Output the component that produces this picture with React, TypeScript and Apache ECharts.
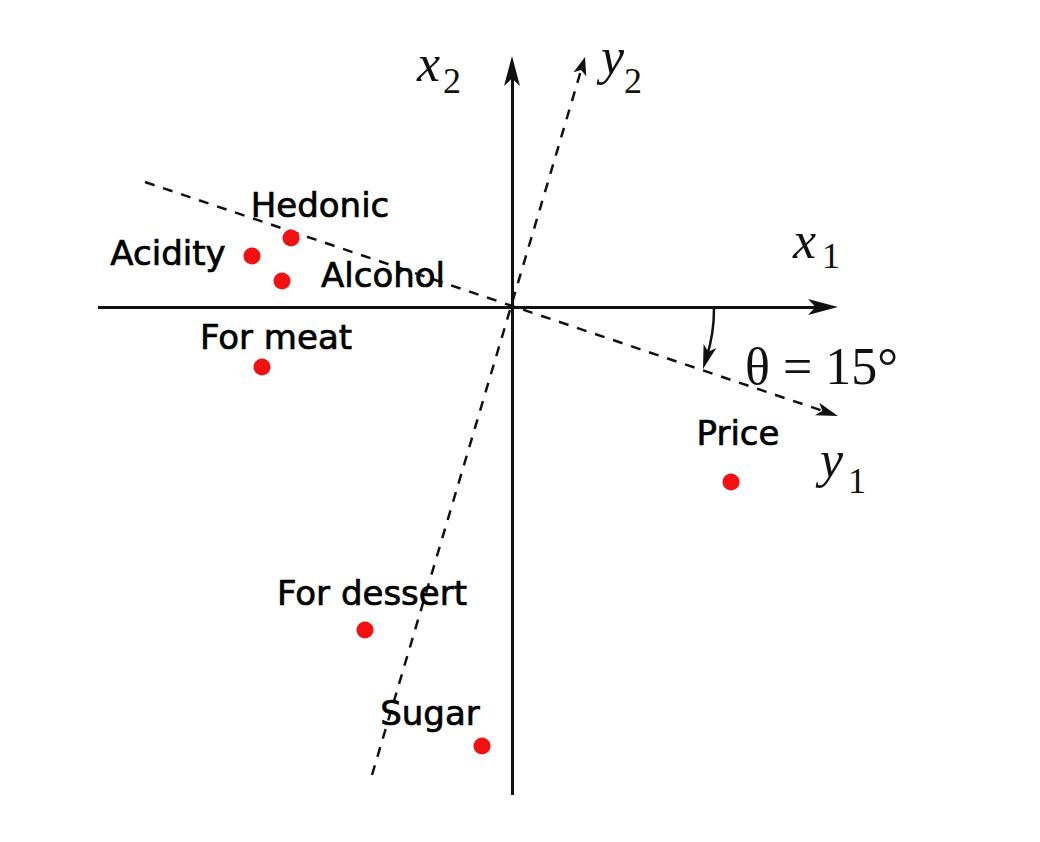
import React, { useEffect, useRef } from "react";
import * as echarts from "echarts";

// Variable names and their coordinates (units: plot units, origin at axes crossing)
const names = ["Hedonic", "Acidity", "Alcohol", "For meat", "Price", "For dessert", "Sugar"];
const xs = [-2.21, -2.6, -2.3, -2.5, 2.19, -1.47, -0.3];
const ys = [0.69, 0.51, 0.26, -0.6, -1.75, -3.23, -4.39];

// Axis segments [xStart, yStart, xTip, yTip]
const x1Axis = [-4.14, 0, 3.26, 0];
const x2Axis = [0, -4.88, 0, 2.51];
const y1Axis = [-3.67, 1.25, 3.26, -1.09];
const y2Axis = [-1.4, -4.68, 0.73, 2.5];
const thetaArc = [2.02, -0.01, 1.91, -0.62];

// label offsets (style)
const labelOffsets: number[][] = [
  [29, -33],
  [-84, -3],
  [101, -6],
  [14, -30],
  [7, -49],
  [7, -37],
  [-52, -33],
];

const serif = "'Liberation Serif', 'DejaVu Serif', serif";
const PX = 100; // pixels per plot unit

// ECharts 'arrow' symbol has its tip at the data point; the line stops inside the head
function arrowParts(s: number[], h: number, dirOverride?: number[]) {
  let dx = s[2] - s[0];
  let dy = s[3] - s[1];
  if (dirOverride) {
    dx = dirOverride[0];
    dy = dirOverride[1];
  }
  const len = Math.hypot(dx, dy);
  const ux = dx / len;
  const uy = dy / len;
  const lineEnd = [s[2] - (ux * h * 0.5) / PX, s[3] - (uy * h * 0.5) / PX];
  const rot = (Math.atan2(-ux, uy) * 180) / Math.PI;
  return { tip: [s[2], s[3]], lineEnd, rot };
}

export default function App() {
  const ref = useRef<HTMLDivElement>(null);
  useEffect(() => {
    if (!ref.current) return;
    const chart = echarts.init(ref.current, null, { renderer: "svg" });
    const mathText = (t: string, x: number, y: number, size: number, italic: boolean) => ({
      type: "text",
      x,
      y,
      z: 100,
      style: {
        text: t,
        fill: "#111",
        fontSize: size,
        fontFamily: serif,
        fontStyle: italic ? "italic" : "normal",
        textAlign: "left",
        textVerticalAlign: "middle",
      },
    });

    const arrows = [
      { seg: x1Axis, w: 12, h: 30, dir: undefined as number[] | undefined },
      { seg: x2Axis, w: 12, h: 30, dir: undefined },
      { seg: y1Axis, w: 10, h: 22, dir: undefined },
      { seg: y2Axis, w: 10, h: 18, dir: undefined },
      { seg: thetaArc, w: 10, h: 24, dir: [-0.29, -0.956] },
    ].map((a) => ({ ...a, ...arrowParts(a.seg, a.h, a.dir) }));

    const lineTo = (i: number) => ({
      coords: [[arrows[i].seg[0], arrows[i].seg[1]], arrows[i].lineEnd],
    });

    chart.setOption({
      animation: false,
      backgroundColor: "#fff",
      grid: { left: 0, right: 0, top: 0, bottom: 0 },
      xAxis: { type: "value", min: -5.12, max: 5.28, show: false },
      yAxis: { type: "value", min: -5.35, max: 3.07, show: false },
      series: [
        {
          type: "lines",
          coordinateSystem: "cartesian2d",
          symbol: ["none", "none"],
          lineStyle: { color: "#111", width: 3, opacity: 1 },
          data: [lineTo(0), lineTo(1)],
          silent: true,
        },
        {
          type: "lines",
          coordinateSystem: "cartesian2d",
          symbol: ["none", "none"],
          lineStyle: { color: "#111", width: 2.5, opacity: 1, type: [10, 9] },
          data: [lineTo(2), lineTo(3)],
          silent: true,
        },
        {
          type: "lines",
          coordinateSystem: "cartesian2d",
          symbol: ["none", "none"],
          lineStyle: { color: "#111", width: 2.5, opacity: 1, curveness: 0.08 },
          data: [lineTo(4)],
          silent: true,
        },
        {
          type: "scatter",
          silent: true,
          itemStyle: { color: "#111", opacity: 1 },
          data: arrows.map((a) => ({
            value: a.tip,
            symbol: "arrow",
            symbolSize: [a.w, a.h],
            symbolRotate: a.rot,
          })),
          z: 4,
        },
        {
          type: "scatter",
          symbolSize: 17,
          itemStyle: { color: "#f21010", opacity: 1 },
          label: {
            show: true,
            position: "inside",
            formatter: "{b}",
            fontSize: 34,
            fontFamily: "'DejaVu Sans', sans-serif",
            color: "#000",
            opacity: 1,
            textBorderColor: "#000",
            textBorderWidth: 0.7,
          },
          data: names.map((n, i) => ({
            name: n,
            value: [xs[i], ys[i]],
            label: { offset: labelOffsets[i] },
          })),
          z: 5,
        },
      ],
      graphic: [
        mathText("x", 417, 63, 52, true),
        mathText("2", 443, 81, 36, false),
        mathText("y", 601, 56, 52, true),
        mathText("2", 624, 81, 36, false),
        mathText("x", 793, 240, 52, true),
        mathText("1", 822, 256, 36, false),
        mathText("y", 820, 459, 52, true),
        mathText("1", 848, 481, 36, false),
        mathText("θ = 15°", 745, 366, 52, false),
      ],
    });
    return () => chart.dispose();
  }, []);
  return (
    <div
      ref={ref}
      style={{ position: "fixed", left: 0, top: 0, width: 1040, height: 842, background: "#fff" }}
    />
  );
}
